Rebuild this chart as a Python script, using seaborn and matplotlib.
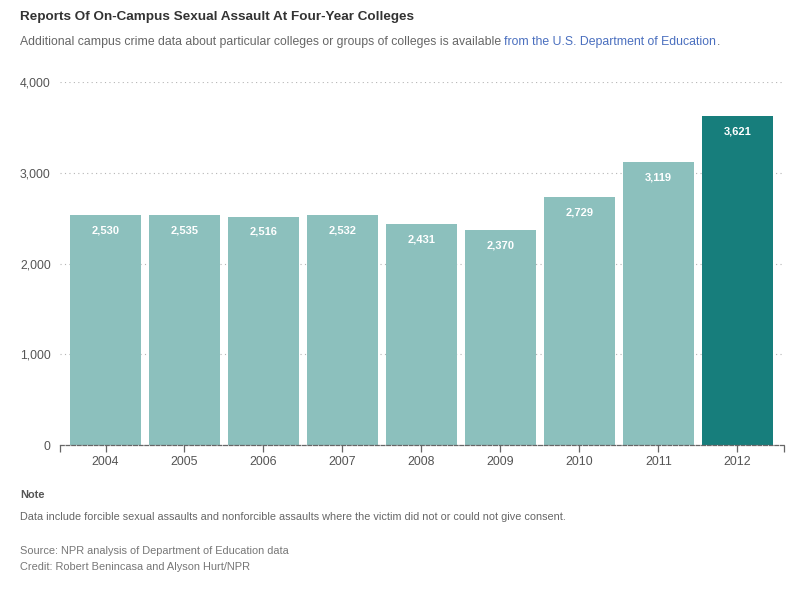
import numpy as np
import matplotlib
matplotlib.use("Agg")
import matplotlib.pyplot as plt
import seaborn as sns

# data
years = ['2004', '2005', '2006', '2007', '2008', '2009', '2010', '2011', '2012']
reports = [2530, 2535, 2516, 2532, 2431, 2370, 2729, 3119, 3621]
bar_colors = ['#8cc0bd'] * 8 + ['#177e7c']
y_ticks = [0, 1000, 2000, 3000, 4000]

sns.set_theme(style='white')
plt.rcParams['font.family'] = ['Liberation Sans', 'DejaVu Sans']

fig = plt.figure(figsize=(7.97, 5.97), dpi=100)
ax = fig.add_axes([60 / 797, 1 - 445 / 597, 724 / 797, 363 / 597])

sns.barplot(x=years, y=reports, hue=years, palette=bar_colors, legend=False,
            width=0.9, saturation=1, linewidth=0, ax=ax, zorder=3)

# value labels inside the bars
for i, v in enumerate(reports):
    ax.annotate(f'{v:,}', (i, v), xytext=(0, -11), textcoords='offset points',
                ha='center', va='center', color='white', fontsize=8,
                fontweight='bold', zorder=4)

ax.set_xlim(-0.576, 8.589)
ax.set_ylim(0, 4000)
ax.set_yticks(y_ticks)
ax.set_yticklabels([f'{t:,}' for t in y_ticks])
ax.yaxis.grid(True, linestyle=(0, (1, 3)), color='#b5b5b5', linewidth=0.8, zorder=0)
ax.xaxis.grid(False)

for s in ['top', 'right', 'left']:
    ax.spines[s].set_visible(False)
ax.spines['bottom'].set_color('#666666')
ax.spines['bottom'].set_linestyle((0, (3, 1.5)))
ax.spines['bottom'].set_linewidth(0.9)
ax.spines['bottom'].set_zorder(5)

ax.tick_params(axis='x', bottom=True, length=5, width=0.9, color='#666666',
               labelsize=8.9, labelcolor='#555555', pad=3)
ax.tick_params(axis='y', left=False, labelsize=8.8, labelcolor='#555555', pad=0.7)
ax.set_xticks(np.arange(-0.576, 8.6, 9.165), minor=True)
ax.tick_params(axis='x', which='minor', bottom=True, length=5, width=0.9, color='#666666')
ax.set_xlabel('')
ax.set_ylabel('')

# header
fig.text(20 / 797, 1 - 17 / 597, 'Reports Of On-Campus Sexual Assault At Four-Year Colleges',
         fontsize=9.7, fontweight='bold', color='#333333', va='center', ha='left')
t1 = fig.text(20 / 797, 1 - 42 / 597,
              'Additional campus crime data about particular colleges or groups of colleges is available ',
              fontsize=8.85, color='#666666', va='center', ha='left')
t2 = ax.annotate('from the U.S. Department of Education', xy=(1, 0.5), xycoords=t1,
                 va='center', ha='left', fontsize=8.85, color='#4a6fbf', annotation_clip=False)
ax.annotate('.', xy=(1, 0.5), xycoords=t2, va='center', ha='left', fontsize=8.85,
            color='#666666', annotation_clip=False)

# footer
fig.text(20 / 797, 1 - 495 / 597, 'Note', fontsize=7.9, fontweight='bold',
         color='#555555', va='center', ha='left')
fig.text(20 / 797, 1 - 517 / 597,
         'Data include forcible sexual assaults and nonforcible assaults where the victim did not or could not give consent.',
         fontsize=7.85, color='#666666', va='center', ha='left')
fig.text(20 / 797, 1 - 551 / 597, 'Source: NPR analysis of Department of Education data',
         fontsize=7.9, color='#777777', va='center', ha='left')
fig.text(20 / 797, 1 - 567 / 597, 'Credit: Robert Benincasa and Alyson Hurt/NPR',
         fontsize=7.9, color='#777777', va='center', ha='left')

fig.savefig('out.png', dpi=100)
